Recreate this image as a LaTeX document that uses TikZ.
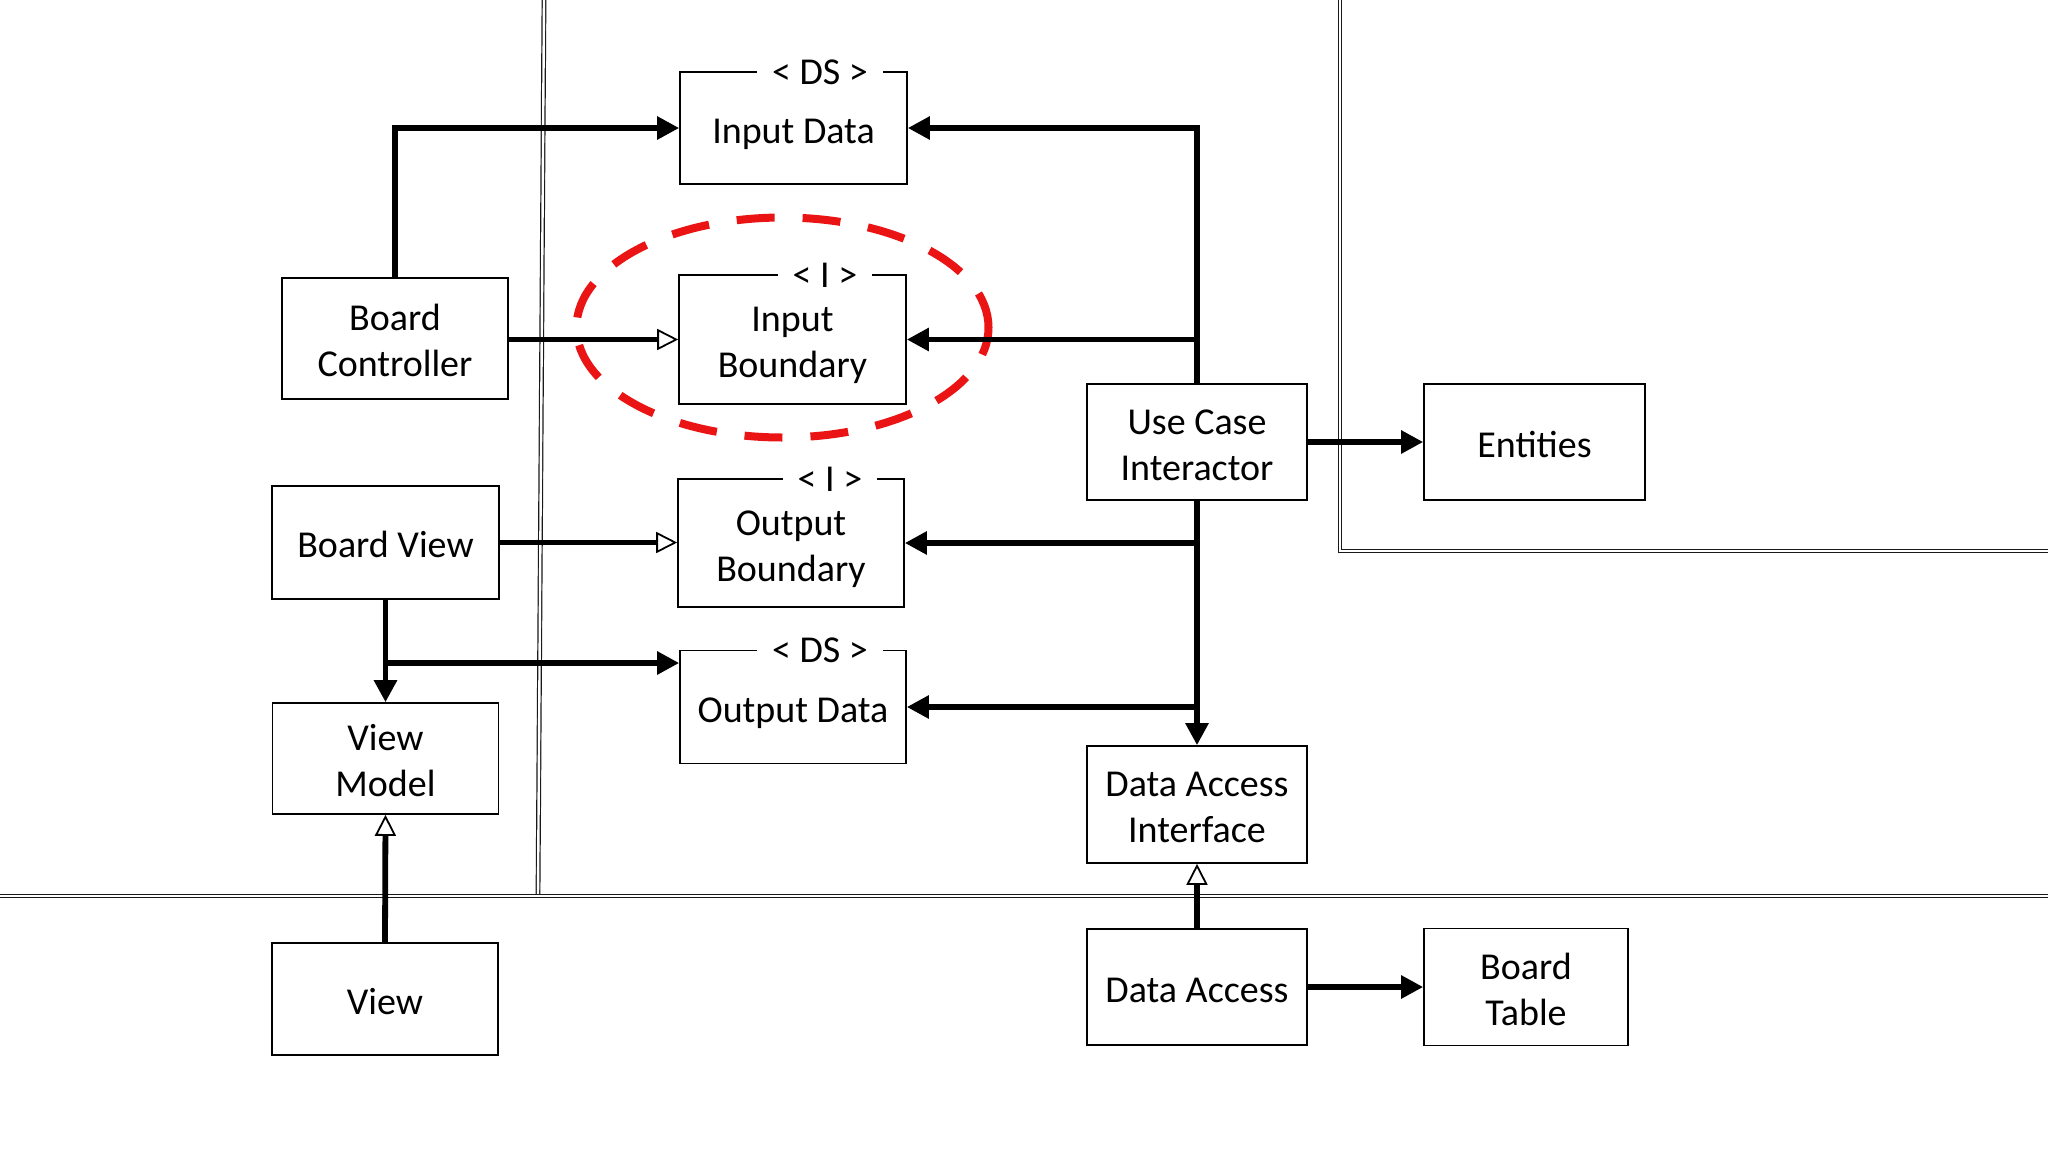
\documentclass[tikz,border=0pt]{standalone}
\usepackage{fontspec}
\setmainfont{Carlito}
\usetikzlibrary{arrows.meta}
\newcommand\boxfont{\fontsize{38}{46}\selectfont}
\newcommand\lblfont{\fontsize{38}{44}\selectfont}
\definecolor{dashred}{RGB}{235,20,20}
\tikzset{
  box/.style={draw, line width=1.6pt, rectangle, align=center, inner sep=0pt, font=\boxfont},
  oneline/.style={box, text height=32pt, text depth=2pt},
  twoline/.style={box, text height=78pt, text depth=2pt},
  stereo/.style={fill=white, inner xsep=15pt, inner ysep=2pt, font=\lblfont},
  conn/.style={line width=5.8pt},
  fa/.style={-{Triangle[length=22pt,width=22pt]}},
  oa/.style={-{Triangle[open,length=21pt,width=21pt,line width=1.8pt,fill=white]}},
  layer/.style={draw=black!90, line width=1.2pt, double=white, double distance=2.4pt}
}
\begin{document}
\begin{tikzpicture}[x={(1pt,0)}, y={(0,-1pt)}]
\fill[white] (0,0) rectangle (2048,1152);
\useasboundingbox (0,0) rectangle (2048,1152);

% layer boundaries
\draw[layer] (544,0) -- (538,896);
\draw[layer] (0,896) -- (2048,896);
\draw[layer] (1340,0) -- (1340,551) -- (2048,551);

% boxes
\node[oneline, minimum width=227, minimum height=112] (indata) at (793.5,128) {Input Data};
\node[twoline, minimum width=227, minimum height=129] (inb) at (792.5,339.5) {Input\\Boundary};
\node[twoline, minimum width=226, minimum height=121] (bc) at (395,338.5) {Board\\Controller};
\node[oneline, minimum width=227, minimum height=113] (bv) at (385.5,542.5) {Board View};
\node[twoline, minimum width=226, minimum height=128] (outb) at (791,543) {Output\\Boundary};
\node[oneline, minimum width=226, minimum height=113] (outd) at (793,707) {Output Data};
\node[twoline, minimum width=226, minimum height=111] (vm) at (385.5,758.5) {View\\Model};
\node[oneline, minimum width=226, minimum height=112] (view) at (385,999) {View};
\node[twoline, minimum width=220, minimum height=116] (uci) at (1197,442) {Use Case\\Interactor};
\node[oneline, minimum width=221, minimum height=116] (ent) at (1534.5,442) {Entities};
\node[twoline, minimum width=220, minimum height=117] (dai) at (1197,804.5) {Data Access\\Interface};
\node[oneline, minimum width=220, minimum height=116] (da) at (1197,987) {Data Access};
\node[twoline, minimum width=204, minimum height=117] (bt) at (1526,987) {Board\\Table};

% stereotype labels
\node[stereo] (s1) at (820,72) {< DS >};
\node[stereo] (s2) at (825,275) {< I >};
\node[stereo] (s3) at (830,479) {< I >};
\node[stereo] (s4) at (820,650) {< DS >};

% highlight
\draw[dashred, line width=8pt, dash pattern=on 38pt off 28pt, dash phase=10pt] (782.5,327.5) ellipse [x radius=206, y radius=110];

% connectors
\draw[conn,fa] (bc.north) |- (indata.west);
\draw[conn,oa] (bc.east |- inb.west) -- (inb.west);
\draw[conn,fa] (uci.north) |- (indata.east);
\draw[conn,fa] (uci.north |- inb.east) -- (inb.east);
\draw[conn,fa] (uci.south |- outb.east) -- (outb.east);
\draw[conn,fa] (uci.south |- outd.east) -- (outd.east);
\draw[conn,fa] (uci.south) -- (dai.north);
\draw[conn,fa] (uci.east) -- (ent.west);
\draw[conn,oa] (bv.east) -- (bv.east -| outb.west);
\draw[conn,fa] (bv.south) -- (vm.north);
\coordinate (br) at (386,663);
\draw[conn,fa] (br) -- (br -| outd.west);
\draw[conn,oa] (view.north) -- (vm.south);
\draw[conn,oa] (da.north) -- (dai.south);
\draw[conn,fa] (da.east) -- (bt.west);
\end{tikzpicture}
\end{document}
